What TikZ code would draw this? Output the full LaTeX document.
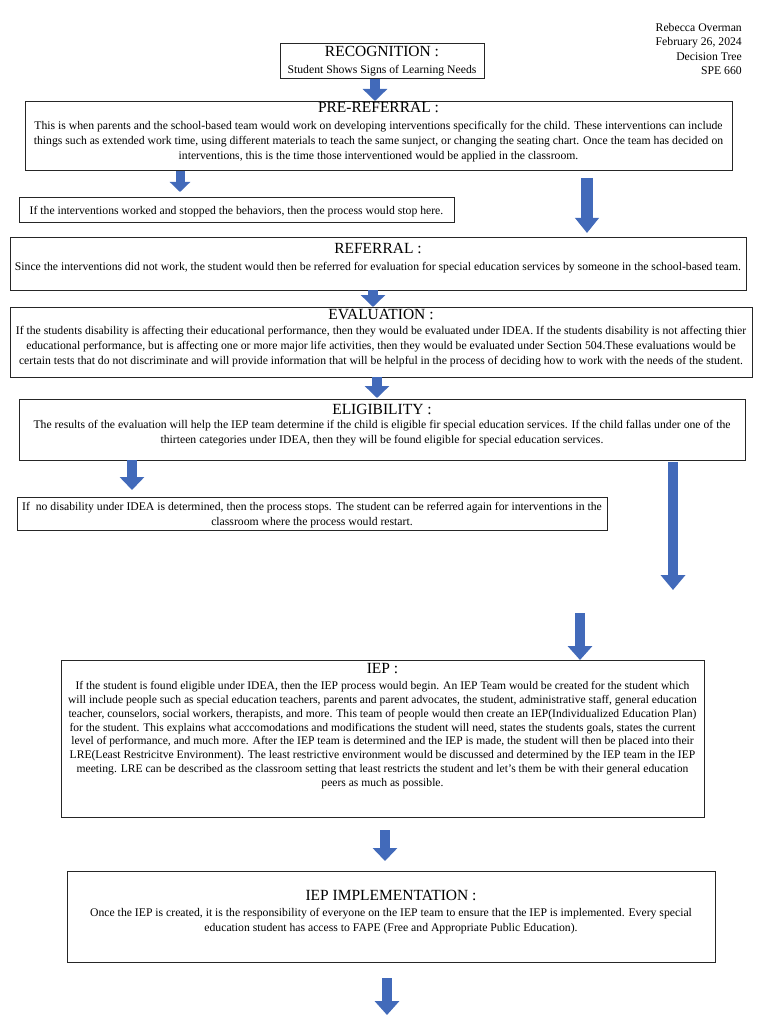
\documentclass[tikz,border=0pt]{standalone}
\usepackage{fontspec}
\setmainfont{Liberation Serif}
\usetikzlibrary{arrows.meta,calc}
\definecolor{arrowblue}{RGB}{66,106,186}
\begin{document}
\begin{tikzpicture}[x=1pt,y=1pt,
  box/.style={draw=black!85, line width=0.8pt, inner sep=0pt},
  ttl/.style={font=\fontsize{15.5}{17}\selectfont, inner sep=0pt, anchor=base},
  body/.style={font=\fontsize{11.7}{15}\selectfont, align=center, inner sep=0pt, anchor=north},
  hdr/.style={font=\fontsize{11.7}{14.5}\selectfont, align=right, inner sep=0pt, anchor=north east},
  barrow/.style={draw=arrowblue, line width=10pt, -{Triangle[width=24pt,length=12pt]}},
]
\useasboundingbox[fill=white] (0,0) rectangle (768,-1024);

% header
\node[hdr] (hdr) at (742,-23) {Rebecca Overman\\February 26, 2024\\Decision Tree\\SPE 660};

% boxes
\node[box, minimum width=204pt, minimum height=35pt] (rec) at (382,-60.5) {};
\node[box, minimum width=707pt, minimum height=69pt] (pre) at (378.5,-135.5) {};
\node[box, minimum width=435pt, minimum height=25pt] (stopa) at (236.5,-209.5) {};
\node[box, minimum width=736pt, minimum height=53pt] (ref) at (378,-263.5) {};
\node[box, minimum width=742pt, minimum height=70pt] (eva) at (381,-342) {};
\node[box, minimum width=726pt, minimum height=61pt] (eli) at (382,-429.5) {};
\node[box, minimum width=590pt, minimum height=33pt] (stopb) at (312,-513.5) {};
\node[box, minimum width=643pt, minimum height=157pt] (iep) at (382.5,-738.5) {};
\node[box, minimum width=648pt, minimum height=91pt] (impl) at (391,-916.5) {};

% texts
\node[ttl] (rect) at (382,-57) {RECOGNITION :};
\node[body] (recb) at (382,-65.5) {Student Shows Signs of Learning Needs};

\node[ttl] (pret) at (378.5,-113) {PRE-REFERRAL :};
\node[body] (preb) at (378.5,-121.2) {This is when parents and the school-based team would work on developing interventions specifically for the child. These interventions can include\\
things such as extended work time, using different materials to teach the same sunject, or changing the seating chart. Once the team has decided on\\
interventions, this is the time those interventioned would be applied in the classroom.};

\node[body] (stopat) at (236.5,-205.8) {If the interventions worked and stopped the behaviors, then the process would stop here.};

\node[ttl] (reft) at (378,-253) {REFERRAL :};
\node[body] (refb) at (378,-262) {Since the interventions did not work, the student would then be referred for evaluation for special education services by someone in the school-based team.};

\node[ttl] (evat) at (381,-319) {EVALUATION :};
\node[body] (evab) at (381,-325.8) {If the students disability is affecting their educational performance, then they would be evaluated under IDEA. If the students disability is not affecting thier\\
educational performance, but is affecting one or more major life activities, then they would be evaluated under Section 504.These evaluations would be\\
certain tests that do not discriminate and will provide information that will be helpful in the process of deciding how to work with the needs of the student.};

\node[ttl] (elit) at (382,-414) {ELIGIBILITY :};
\node[body, font=\fontsize{11.7}{14.5}\selectfont] (elib) at (382,-420.5) {The results of the evaluation will help the IEP team determine if the child is eligible fir special education services. If the child fallas under one of the\\
thirteen categories under IDEA, then they will be found eligible for special education services.};

\node[body] (stopbt) at (312,-502.2) {If\ \ no disability under IDEA is determined, then the process stops. The student can be referred again for interventions in the\\
classroom where the process would restart.};

\node[ttl] (iept) at (382.5,-673) {IEP :};
\node[body, font=\fontsize{11.6}{13.8}\selectfont] (iepb) at (382.5,-681.3) {If the student is found eligible under IDEA, then the IEP process would begin. An IEP Team would be created for the student which\\
will include people such as special education teachers, parents and parent advocates, the student, administrative staff, general education\\
teacher, counselors, social workers, therapists, and more. This team of people would then create an IEP(Individualized Education Plan)\\
for the student. This explains what acccomodations and modifications the student will need, states the students goals, states the current\\
level of performance, and much more. After the IEP team is determined and the IEP is made, the student will then be placed into their\\
LRE(Least Restricitve Environment). The least restrictive environment would be discussed and determined by the IEP team in the IEP\\
meeting. LRE can be described as the classroom setting that least restricts the student and let's them be with their general education\\
peers as much as possible.};

\node[ttl] (implt) at (391,-900) {IEP IMPLEMENTATION :};
\node[body] (implb) at (391,-908.2) {Once the IEP is created, it is the responsibility of everyone on the IEP team to ensure that the IEP is implemented. Every special\\
education student has access to FAPE (Free and Appropriate Public Education).};

% arrow end points
\coordinate (a1s) at (375,-79);  \coordinate (a1e) at (375,-101);
\coordinate (a2s) at (180,-171); \coordinate (a2e) at (180,-192);
\coordinate (a3s) at (587,-178); \coordinate (a3e) at (587,-233);
\coordinate (a4s) at (373,-290); \coordinate (a4e) at (373,-307);
\coordinate (a5s) at (377,-377); \coordinate (a5e) at (377,-398);
\coordinate (a6s) at (132,-460); \coordinate (a6e) at (132,-490);
\coordinate (a7s) at (673,-462); \coordinate (a7e) at (673,-590);
\coordinate (a8s) at (580,-613); \coordinate (a8e) at (580,-660);
\coordinate (a9s) at (385,-830); \coordinate (a9e) at (385,-861);
\coordinate (a10s) at (387,-978); \coordinate (a10e) at (387,-1015);

\draw[barrow] (a1s) -- (a1e);
\draw[barrow, line width=9pt, -{Triangle[width=20pt,length=10pt]}] (a2s) -- (a2e);
\draw[barrow, line width=12pt, -{Triangle[width=23pt,length=15pt]}] (a3s) -- (a3e);
\draw[barrow] (a4s) -- (a4e);
\draw[barrow] (a5s) -- (a5e);
\draw[barrow, -{Triangle[width=24pt,length=13pt]}] (a6s) -- (a6e);
\draw[barrow, -{Triangle[width=24pt,length=15pt]}] (a7s) -- (a7e);
\draw[barrow, -{Triangle[width=24pt,length=14pt]}] (a8s) -- (a8e);
\draw[barrow, -{Triangle[width=24pt,length=13pt]}] (a9s) -- (a9e);
\draw[barrow, -{Triangle[width=24pt,length=14pt]}] (a10s) -- (a10e);
\end{tikzpicture}
\end{document}
